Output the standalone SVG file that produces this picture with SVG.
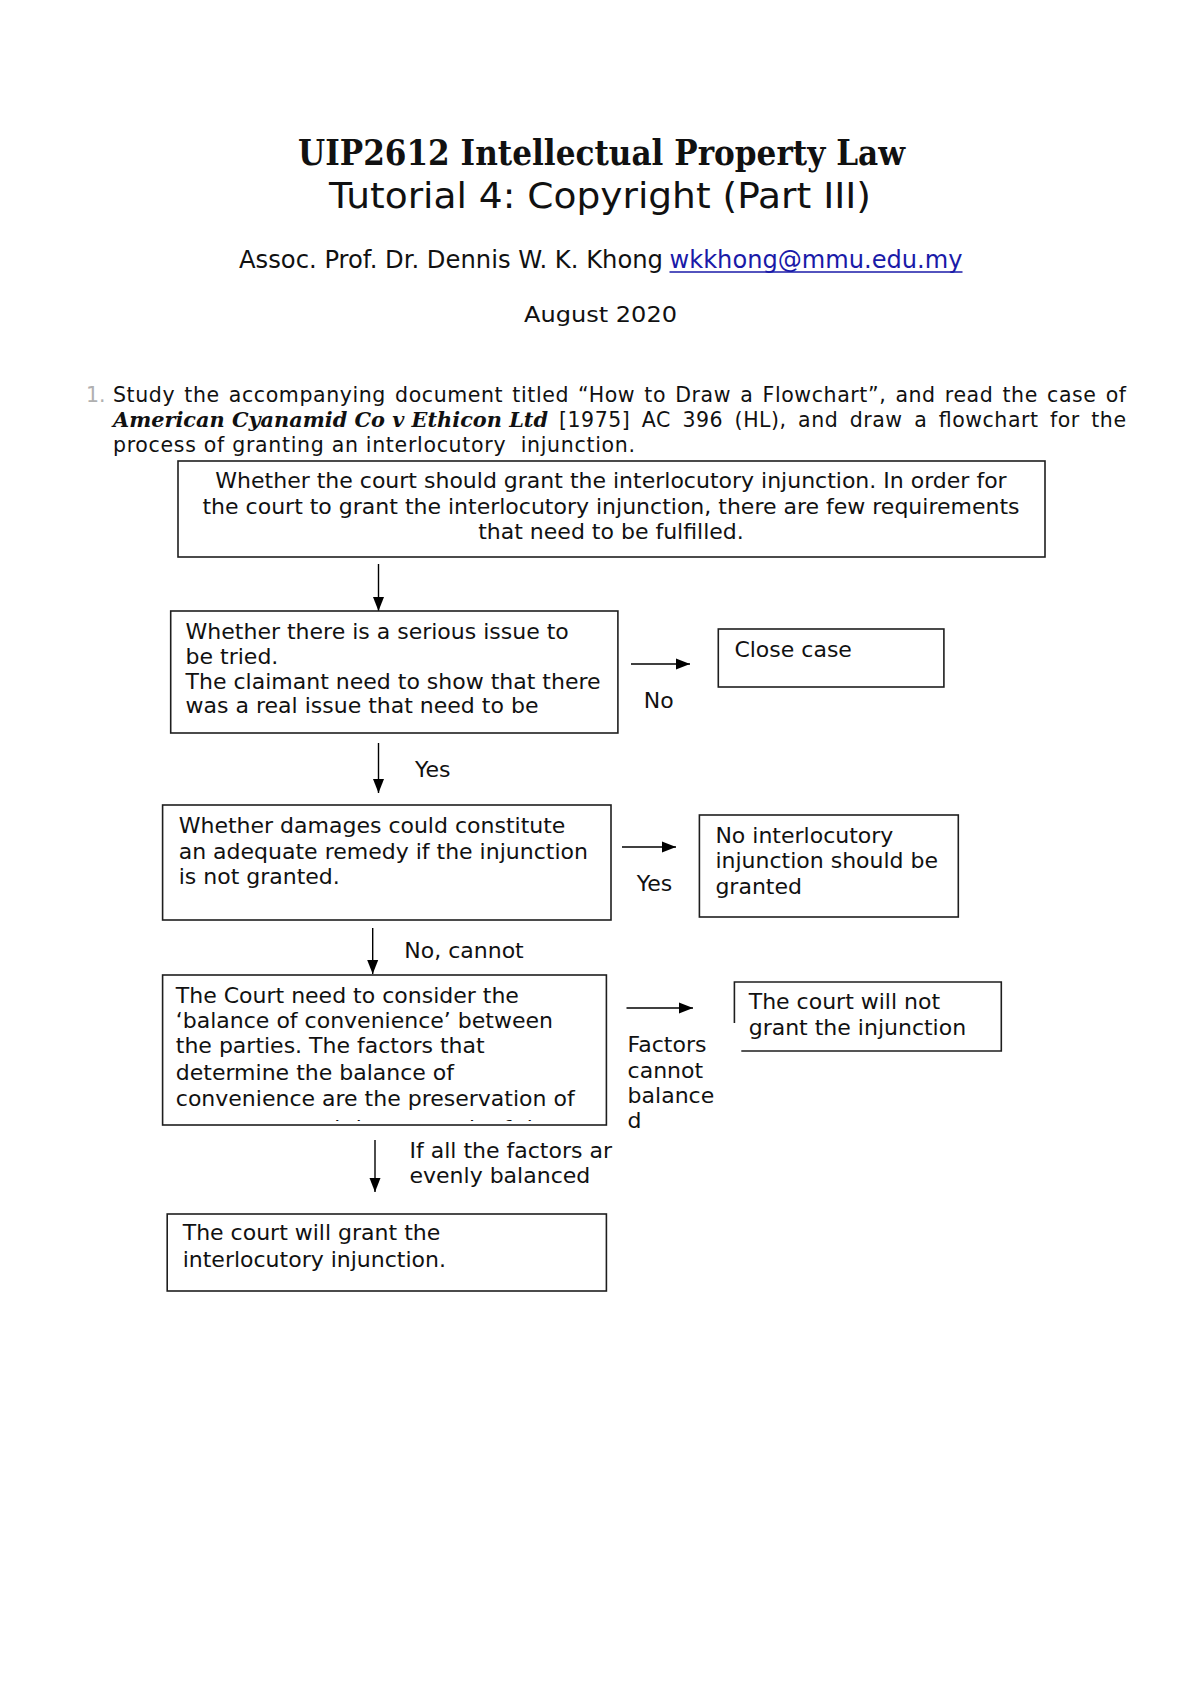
<svg xmlns="http://www.w3.org/2000/svg" width="1200" height="1698" viewBox="0 0 1200 1698">
<defs>
<style>
.b{fill:none;stroke:#1e1e1e;stroke-width:1.6}
.t{font-family:"DejaVu Sans","Verdana",sans-serif;font-size:22px;fill:#111}
.q{font-family:"DejaVu Sans","Verdana",sans-serif;font-size:20.5px;fill:#111}
.c{stroke:#000;stroke-width:1.4;fill:none;marker-end:url(#ah)}
</style>
<marker id="ah" markerUnits="userSpaceOnUse" markerWidth="15" markerHeight="12" refX="14" refY="6" orient="auto">
<path d="M0,0.5 L14,6 L0,11.5 z" fill="#000"/>
</marker>
<clipPath id="clip4"><rect x="164" y="976" width="441" height="145"/></clipPath>
</defs>
<rect width="1200" height="1698" fill="#fff"/>

<g id="header">
<text x="298" y="165" textLength="607" lengthAdjust="spacingAndGlyphs" style="font-family:'DejaVu Serif Condensed','DejaVu Serif',serif;font-weight:bold;font-size:36px;fill:#111">UIP2612 Intellectual Property Law</text>
<text x="329" y="208" textLength="542" lengthAdjust="spacingAndGlyphs" style="font-family:'DejaVu Sans',sans-serif;font-size:36px;fill:#111">Tutorial 4: Copyright (Part III)</text>
<text x="239" y="268" textLength="424" lengthAdjust="spacingAndGlyphs" style="font-family:'DejaVu Sans',sans-serif;font-size:24px;fill:#111">Assoc. Prof. Dr. Dennis W. K. Khong</text>
<text x="669.5" y="268" textLength="293" lengthAdjust="spacingAndGlyphs" style="font-family:'DejaVu Sans',sans-serif;font-size:24px;fill:#1a1aa8">wkkhong@mmu.edu.my</text>
<line x1="669.5" y1="272" x2="962.5" y2="272" stroke="#1a1aa8" stroke-width="1.5"/>
<text x="524" y="322" textLength="153" lengthAdjust="spacingAndGlyphs" style="font-family:'DejaVu Sans',sans-serif;font-size:22px;fill:#111">August 2020</text>
</g>

<g id="question">
<text x="86" y="402" class="q" style="fill:#b0b0b0">1.</text>
<text x="113" y="402" class="q" word-spacing="2" textLength="1013" lengthAdjust="spacing">Study the accompanying document titled “How to Draw a Flowchart”, and read the case of</text>
<text x="113" y="427" textLength="435" lengthAdjust="spacingAndGlyphs" style="font-family:'DejaVu Serif','Liberation Serif',serif;font-weight:bold;font-style:italic;font-size:21px;fill:#111">American Cyanamid Co v Ethicon Ltd</text>
<text x="559" y="427" class="q" word-spacing="4.5" textLength="567" lengthAdjust="spacing">[1975] AC 396 (HL), and draw a flowchart for the</text>
<text x="113" y="452" class="q" xml:space="preserve" textLength="522" lengthAdjust="spacing">process of granting an interlocutory  injunction.</text>
</g>

<g id="connectors">
<line class="c" x1="378.5" y1="564" x2="378.5" y2="611"/>
<line class="c" x1="631" y1="664" x2="690" y2="664"/>
<line class="c" x1="378.5" y1="743" x2="378.5" y2="793"/>
<line class="c" x1="622" y1="847" x2="676" y2="847"/>
<line class="c" x1="372.7" y1="928" x2="372.7" y2="974"/>
<line class="c" x1="626.5" y1="1008" x2="693" y2="1008"/>
<line class="c" x1="375" y1="1140" x2="375" y2="1192"/>
<text class="t" x="643.7" y="708">No</text>
<text class="t" x="415" y="777">Yes</text>
<text class="t" x="636.8" y="891">Yes</text>
<text class="t" x="404.3" y="958">No, cannot</text>
<text class="t" x="627.6" y="1052">Factors</text>
<text class="t" x="627.6" y="1078">cannot</text>
<text class="t" x="627.6" y="1103">balance</text>
<text class="t" x="627.6" y="1128">d</text>
<text class="t" x="409.5" y="1158">If all the factors ar</text>
<text class="t" x="409.5" y="1183">evenly balanced</text>
</g>

<g id="n1">
<rect class="b" x="178" y="461" width="867" height="96"/>
<text class="t" x="611" y="488" text-anchor="middle">Whether the court should grant the interlocutory injunction. In order for</text>
<text class="t" x="611" y="514" text-anchor="middle">the court to grant the interlocutory injunction, there are few requirements</text>
<text class="t" x="611" y="539" text-anchor="middle">that need to be fulfilled.</text>
</g>

<g id="n2">
<rect class="b" x="170.7" y="611" width="447.2" height="122"/>
<text class="t" x="185.6" y="639">Whether there is a serious issue to</text>
<text class="t" x="185.6" y="664">be tried.</text>
<text class="t" x="185.6" y="689">The claimant need to show that there</text>
<text class="t" x="185.6" y="713">was a real issue that need to be</text>
</g>

<g id="n3">
<rect class="b" x="718.3" y="629" width="225.6" height="58"/>
<text class="t" x="734.4" y="657">Close case</text>
</g>

<g id="n4">
<rect class="b" x="162.6" y="805" width="448.4" height="115"/>
<text class="t" x="178.7" y="833">Whether damages could constitute</text>
<text class="t" x="178.7" y="859">an adequate remedy if the injunction</text>
<text class="t" x="178.7" y="884">is not granted.</text>
</g>

<g id="n5">
<rect class="b" x="699.4" y="815" width="258.9" height="102"/>
<text class="t" x="715.4" y="843">No interlocutory</text>
<text class="t" x="715.4" y="868">injunction should be</text>
<text class="t" x="715.4" y="894">granted</text>
</g>

<g id="n6">
<rect class="b" x="162.6" y="975" width="443.8" height="150"/>
<g clip-path="url(#clip4)">
<text class="t" x="175.8" y="1003">The Court need to consider the</text>
<text class="t" x="175.8" y="1028">‘balance of convenience’ between</text>
<text class="t" x="175.8" y="1053">the parties. The factors that</text>
<text class="t" x="175.8" y="1080">determine the balance of</text>
<text class="t" x="175.8" y="1106">convenience are the preservation of</text>
<text class="t" x="175.8" y="1136">status quo and the strength of the</text>
</g>
</g>

<g id="n7">
<path class="b" d="M734.4,1023 V982 H1001.3 V1051 H741.3"/>
<text class="t" x="748.7" y="1009">The court will not</text>
<text class="t" x="748.7" y="1035">grant the injunction</text>
</g>

<g id="n8">
<rect class="b" x="167.2" y="1214" width="439.2" height="77"/>
<text class="t" x="182.7" y="1240">The court will grant the</text>
<text class="t" x="182.7" y="1267">interlocutory injunction.</text>
</g>
</svg>
